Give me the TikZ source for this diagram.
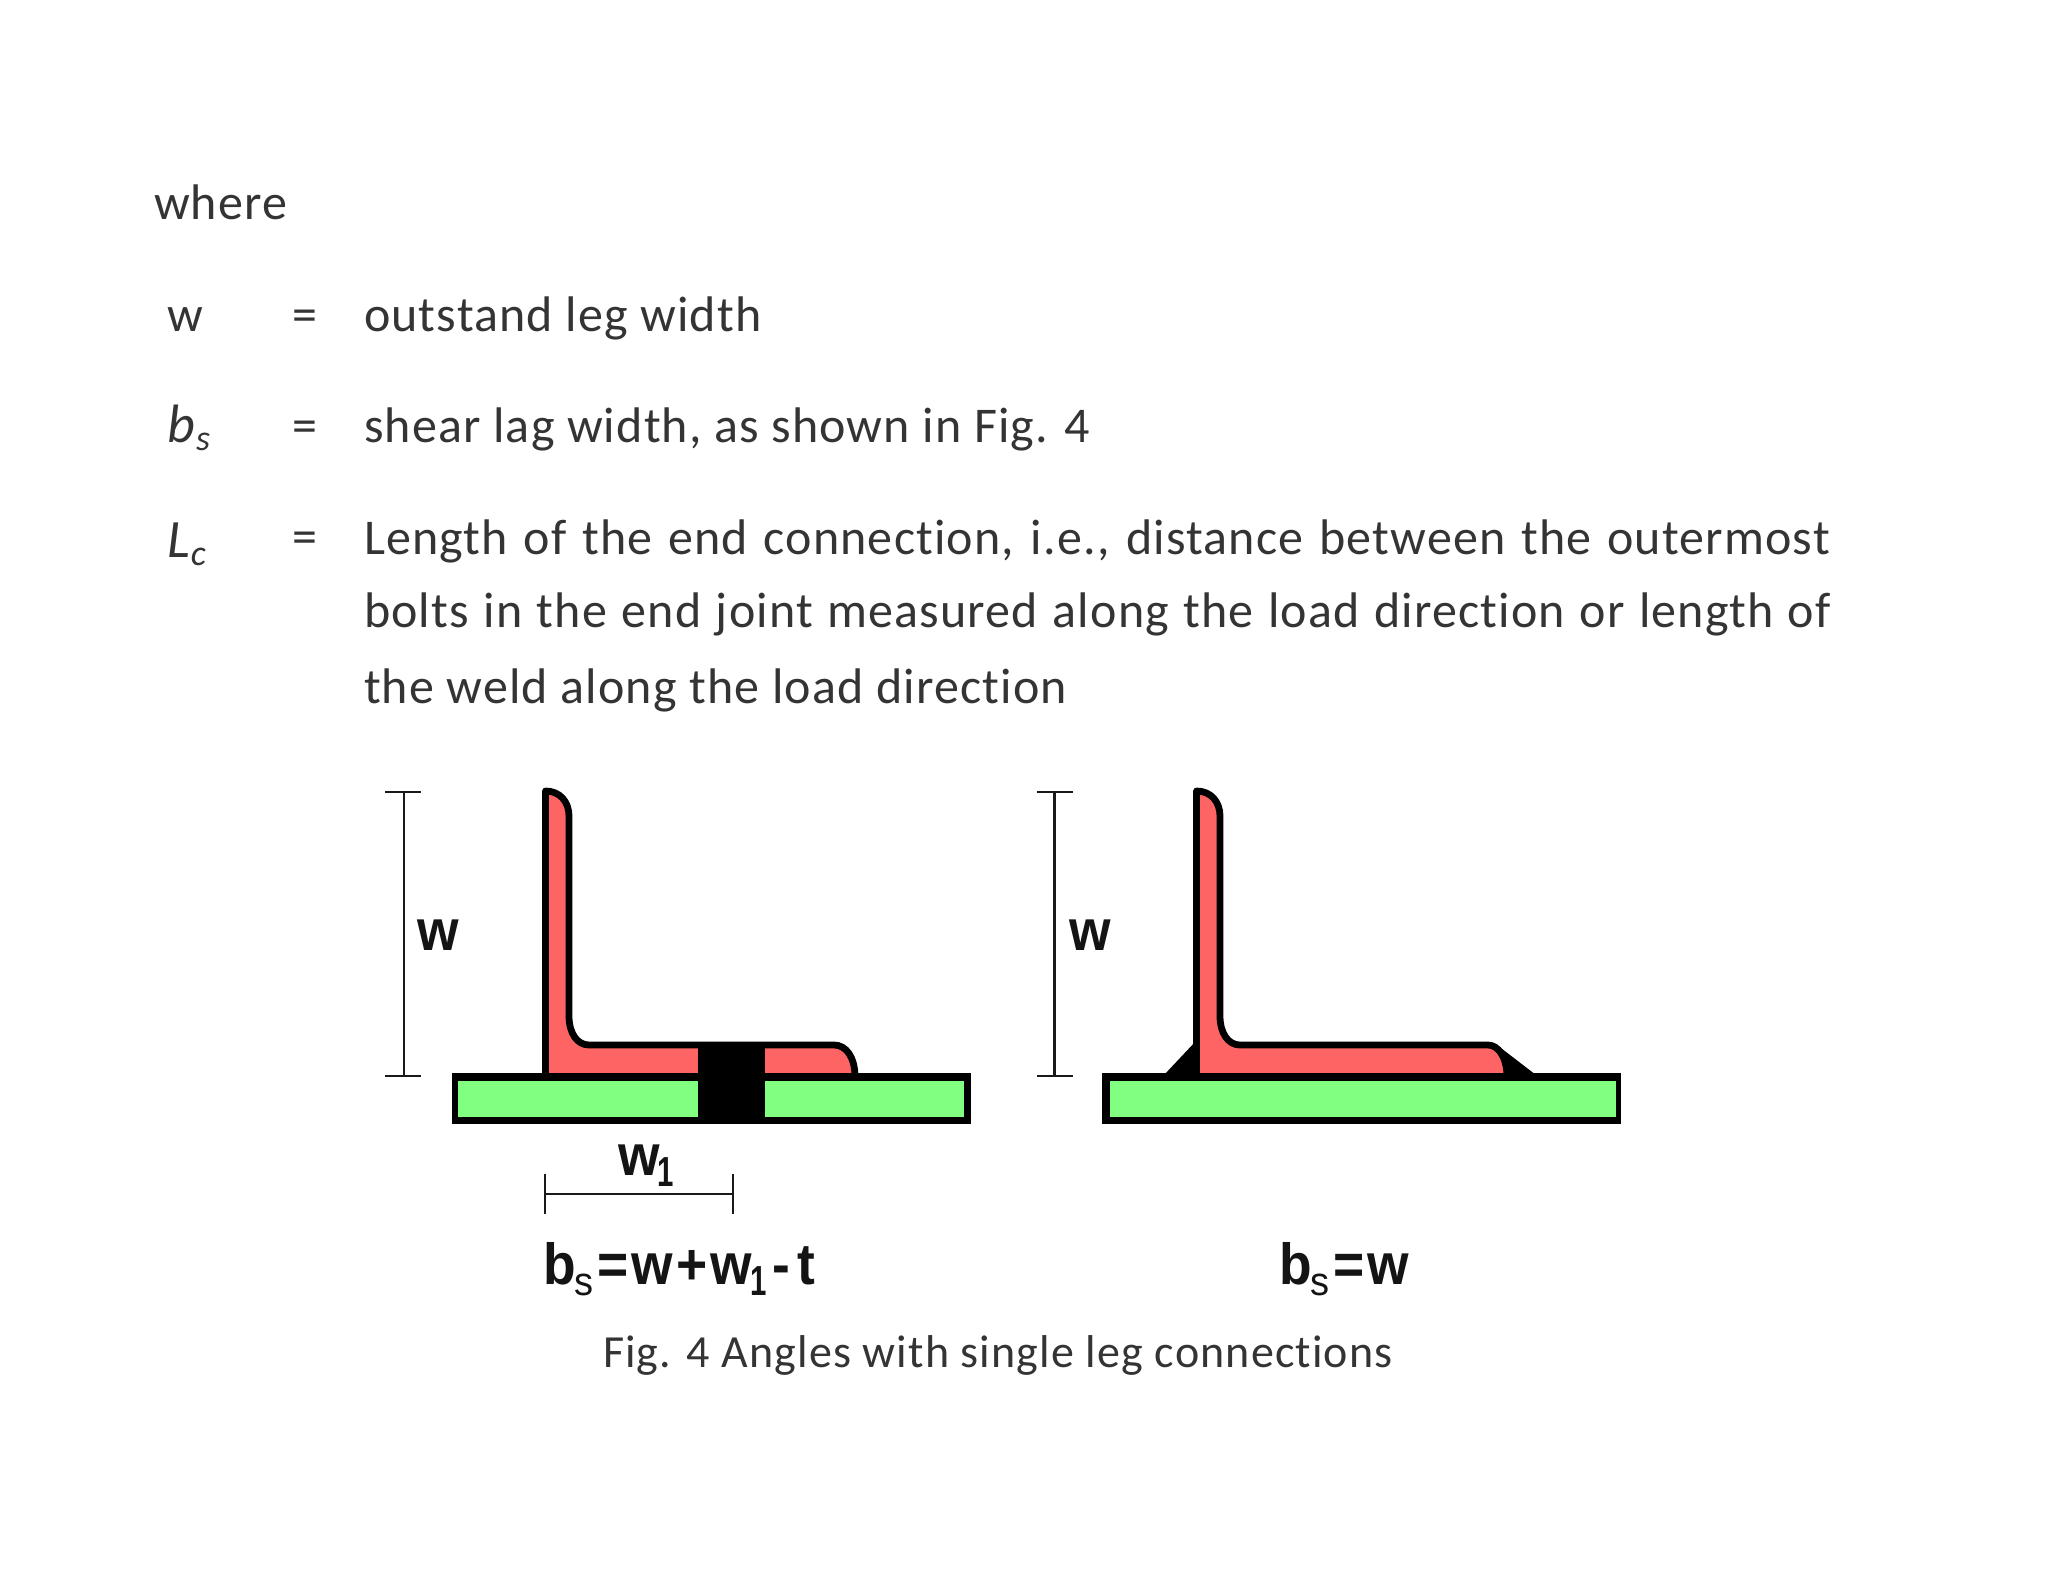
\documentclass[tikz,border=0pt]{standalone}
\usepackage{fontspec}
\setmainfont[Ligatures=NoCommon,LetterSpace=2.35]{Carlito}
\newfontfamily\capfont[Ligatures=NoCommon,LetterSpace=2.5]{Carlito}
\newfontfamily\labfont[FakeStretch=0.92]{Liberation Sans Bold}
\newfontfamily\labsub[FakeStretch=0.95]{Liberation Sans}
\newfontfamily\labone[FakeStretch=0.7]{Liberation Sans Bold}
\definecolor{txt}{HTML}{343434}
\definecolor{angred}{HTML}{FF6464}
\definecolor{plategreen}{HTML}{80FF80}
\definecolor{lab}{HTML}{141414}
\newcommand{\lsub}[1]{{\labsub\fontsize{20}{20}\selectfont\raisebox{-5.5pt}{#1}}}
\newcommand{\lone}{{\labone\fontsize{21}{21}\selectfont\raisebox{-5.5pt}{1}}}
\tikzset{
  body/.style={anchor=base west,inner sep=0pt,outer sep=0pt,text=txt,font=\fontsize{25}{25}\selectfont},
  lbl/.style={anchor=base west,inner sep=0pt,outer sep=0pt,text=lab,font=\labfont\fontsize{29}{29}\selectfont},
  steel/.style={draw=black,line width=3.4pt,fill=angred,line join=round},
  dim/.style={draw=black!90,line width=1.2pt},
  weld/.style={fill=black,draw=none},
  plateout/.style={fill=black,draw=none},
  platein/.style={fill=plategreen,draw=none}
}
\begin{document}
\begin{tikzpicture}[x=0.5pt,y=-0.5pt]
\useasboundingbox[fill=white] (0,0) rectangle (2048,1582);
% text block
\node[body] (where) at (154,220) {where};
\node[body] (w0) at (167,332) {w};
\node[body] (e1) at (292,332) {=};
\node[body] (t1) at (364,332) {outstand leg width};
\node[body] (b0) at (167,443) {{\fontsize{27}{27}\selectfont\textit{b}}\raisebox{-4pt}{\fontsize{18}{18}\selectfont\textit{s}}};
\node[body] (e2) at (292,443) {=};
\node[body] (t2) at (364,443) {shear lag width, as shown in Fig. 4};
\node[body] (l0) at (167,558) {{\fontsize{27}{27}\selectfont\textit{L}}\raisebox{-4pt}{\fontsize{18}{18}\selectfont\textit{c}}};
\node[body] (e3) at (292,553) {=};
\node[body] (t3) at (364,555) {\makebox[733pt][s]{Length of the end connection, i.e., distance between the outermost}};
\node[body] (t4) at (364,627) {\makebox[733.5pt][s]{bolts in the end joint measured along the load direction or length of}};
\node[body] (t5) at (364,703) {the weld along the load direction};
\node[body,font=\capfont\fontsize{23}{23}\selectfont] (cap) at (603,1367) {Fig. 4 Angles with single leg connections};
% left figure
\draw[steel] (545.5,1073) -- (545.5,791) .. controls (560,791) and (569,802) .. (569,816)
  -- (569,1016) .. controls (569,1033) and (577,1045) .. (589,1045)
  -- (834,1045) .. controls (846,1045) and (855,1057) .. (855,1077) -- (545.5,1077) -- cycle;
\fill[plateout] (452,1073) rectangle (971,1124);
\fill[platein] (458,1081) rectangle (964,1116.5);
\fill[black] (698,1042) rectangle (765,1124);
\coordinate (dla) at (404,792); \coordinate (dlb) at (404,1076);
\draw[dim] (dla) -- (dlb);
\draw[dim] (385,792) -- (421,792);
\draw[dim] (385,1076) -- (421,1076);
\node[lbl] (wl) at (417,950) {w};
\coordinate (wa) at (545,1194); \coordinate (wb) at (733,1194);
\draw[dim] (wa) -- (wb);
\draw[dim] (545,1174) -- (545,1213.5);
\draw[dim] (733,1174) -- (733,1213.5);
\node[lbl] (w1l) at (618,1175) {w\kern-0.8pt\lone};
\node[lbl] (eql) at (543,1284) {b\kern-0.8pt\lsub{s}\kern2pt=\kern1.5pt w\kern2pt+\kern1.5pt w\kern-0.8pt\lone\kern2.5pt-\kern4pt t};
% right figure
\fill[weld] (1164,1075) -- (1196,1041) -- (1196,1075) -- cycle;
\fill[weld] (1486,1042) -- (1497,1045) -- (1536,1075) -- (1500,1075) -- cycle;
\draw[steel] (1196.5,1073) -- (1196.5,791) .. controls (1211,791) and (1220,802) .. (1220,816)
  -- (1220,1016) .. controls (1220,1033) and (1228,1045) .. (1240,1045)
  -- (1488,1045) .. controls (1498,1045) and (1507,1057) .. (1507,1077) -- (1196.5,1077) -- cycle;
\fill[plateout] (1102,1073) rectangle (1621,1124);
\fill[platein] (1110,1081) rectangle (1616,1116.5);
\coordinate (dra) at (1054.5,792); \coordinate (drb) at (1054.5,1076);
\draw[dim] (dra) -- (drb);
\draw[dim] (1037,792) -- (1073,792);
\draw[dim] (1037,1076) -- (1073,1076);
\node[lbl] (wr) at (1069,950) {w};
\node[lbl] (eqr) at (1279,1284) {b\kern-0.8pt\lsub{s}\kern2pt=\kern1.5pt w};
\end{tikzpicture}
\end{document}
